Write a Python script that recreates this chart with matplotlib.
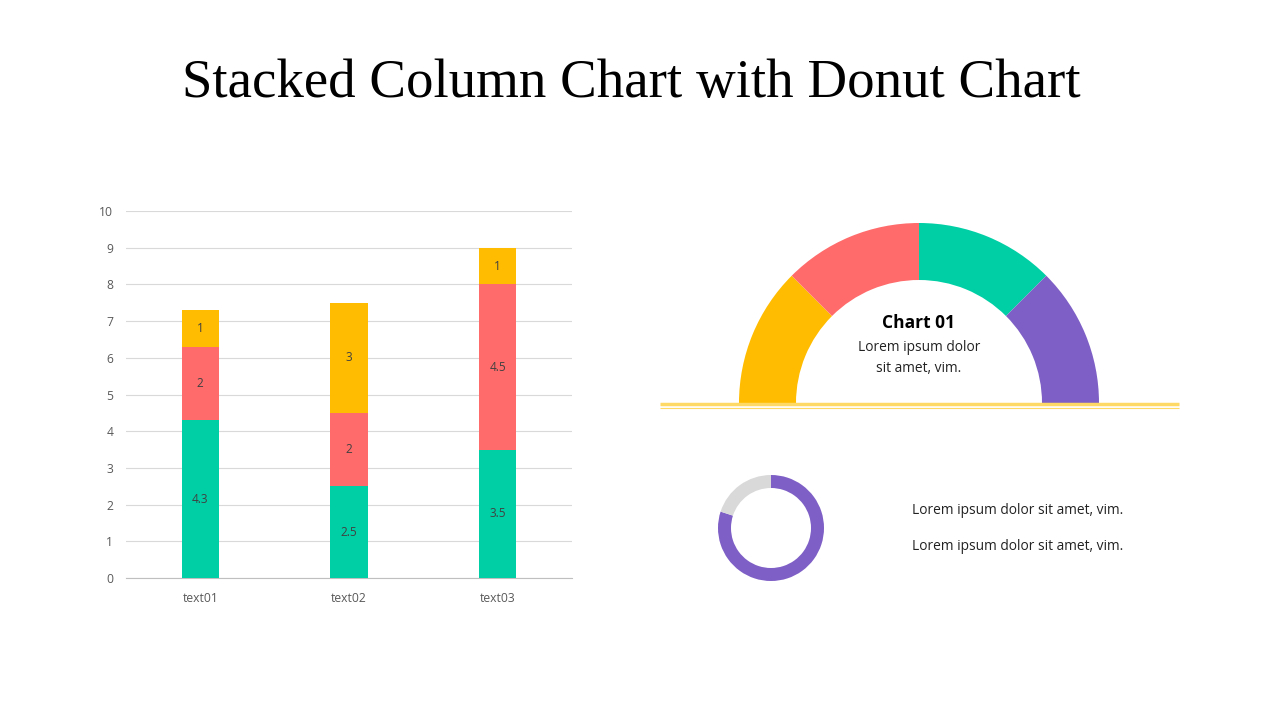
import matplotlib
matplotlib.use('Agg')
import matplotlib.pyplot as plt

# stacked column data
categories = ['text01', 'text02', 'text03']
green_vals = [4.3, 2.5, 3.5]
red_vals = [2, 2, 4.5]
yellow_vals = [1, 3, 1]

# half donut (gauge) segments
gauge_vals = [1, 1, 1, 1]
# small donut: share / remainder
donut_vals = [80, 20]

GREEN = '#00CFA5'
RED = '#FF6B6B'
YELLOW = '#FFBC00'
PURPLE = '#7E5FC6'
GRAY = '#D9D9D9'

plt.rcParams['font.family'] = ['Open Sans', 'DejaVu Sans']

fig = plt.figure(figsize=(12.8, 7.2), dpi=100)
fig.patch.set_facecolor('white')

fig.text(0.493, 0.884, 'Stacked Column Chart with Donut Chart', ha='center', va='center',
         fontsize=39.5, family='Liberation Serif', color='black')

# ---- stacked columns ----
ax = fig.add_axes([0.0984, 0.1972, 0.3485, 0.5097])
x = range(len(categories))
bottoms2 = [g + r for g, r in zip(green_vals, red_vals)]
ax.bar(x, green_vals, width=0.25, color=GREEN, zorder=3)
ax.bar(x, red_vals, width=0.25, bottom=green_vals, color=RED, zorder=3)
ax.bar(x, yellow_vals, width=0.25, bottom=bottoms2, color=YELLOW, zorder=3)
for i in x:
    ax.text(i, green_vals[i] / 2, f'{green_vals[i]:g}', ha='center', va='center', fontsize=8.5, color='#404040', zorder=4)
    ax.text(i, green_vals[i] + red_vals[i] / 2, f'{red_vals[i]:g}', ha='center', va='center', fontsize=8.5, color='#404040', zorder=4)
    ax.text(i, bottoms2[i] + yellow_vals[i] / 2, f'{yellow_vals[i]:g}', ha='center', va='center', fontsize=8.5, color='#404040', zorder=4)
ax.set_xlim(-0.5, 2.5)
ax.set_ylim(0, 10)
ax.set_yticks(range(0, 11))
ax.set_xticks(list(x))
ax.set_xticklabels(categories)
ax.yaxis.grid(True, color=GRAY, lw=0.8, zorder=0)
for s in ['top', 'right', 'left']:
    ax.spines[s].set_visible(False)
ax.spines['bottom'].set_color('#BFBFBF')
ax.tick_params(length=0, labelsize=8.7, colors='#595959')
ax.tick_params(axis='y', pad=9)
ax.tick_params(axis='x', pad=10)

# ---- right panel: gauge + small donut (pixel coordinates) ----
rp = fig.add_axes([0.5, 0.0, 0.5, 1.0])
rp.pie(gauge_vals + [sum(gauge_vals)], colors=[YELLOW, RED, GREEN, PURPLE, 'none'],
       startangle=180, counterclock=False, center=(919, 720 - 403), radius=180,
       wedgeprops=dict(width=57, linewidth=0))
rp.pie(donut_vals, colors=[PURPLE, GRAY], startangle=90, counterclock=False,
       center=(771, 720 - 528), radius=53, wedgeprops=dict(width=13, linewidth=0))
rp.plot([660, 1179], [720 - 404, 720 - 404], color='#FFD966', lw=2.5, solid_capstyle='butt')
rp.plot([660, 1179], [720 - 407.5, 720 - 407.5], color='#FFD966', lw=0.8, solid_capstyle='butt')
rp.text(919, 720 - 323, 'Chart 01', ha='center', va='center', fontsize=12.5, fontweight='bold', color='black')
rp.text(919, 720 - 358, 'Lorem ipsum dolor\nsit amet, vim.', ha='center', va='center', fontsize=9.9,
        color='#222222', linespacing=1.55)
rp.text(912, 720 - 511, 'Lorem ipsum dolor sit amet, vim.', ha='left', va='center', fontsize=9.9, color='#222222')
rp.text(912, 720 - 546, 'Lorem ipsum dolor sit amet, vim.', ha='left', va='center', fontsize=9.9, color='#222222')
rp.set_xlim(640, 1280)
rp.set_ylim(0, 720)
rp.set_aspect('equal')
rp.axis('off')

fig.savefig('out.png', dpi=100, facecolor='white')
